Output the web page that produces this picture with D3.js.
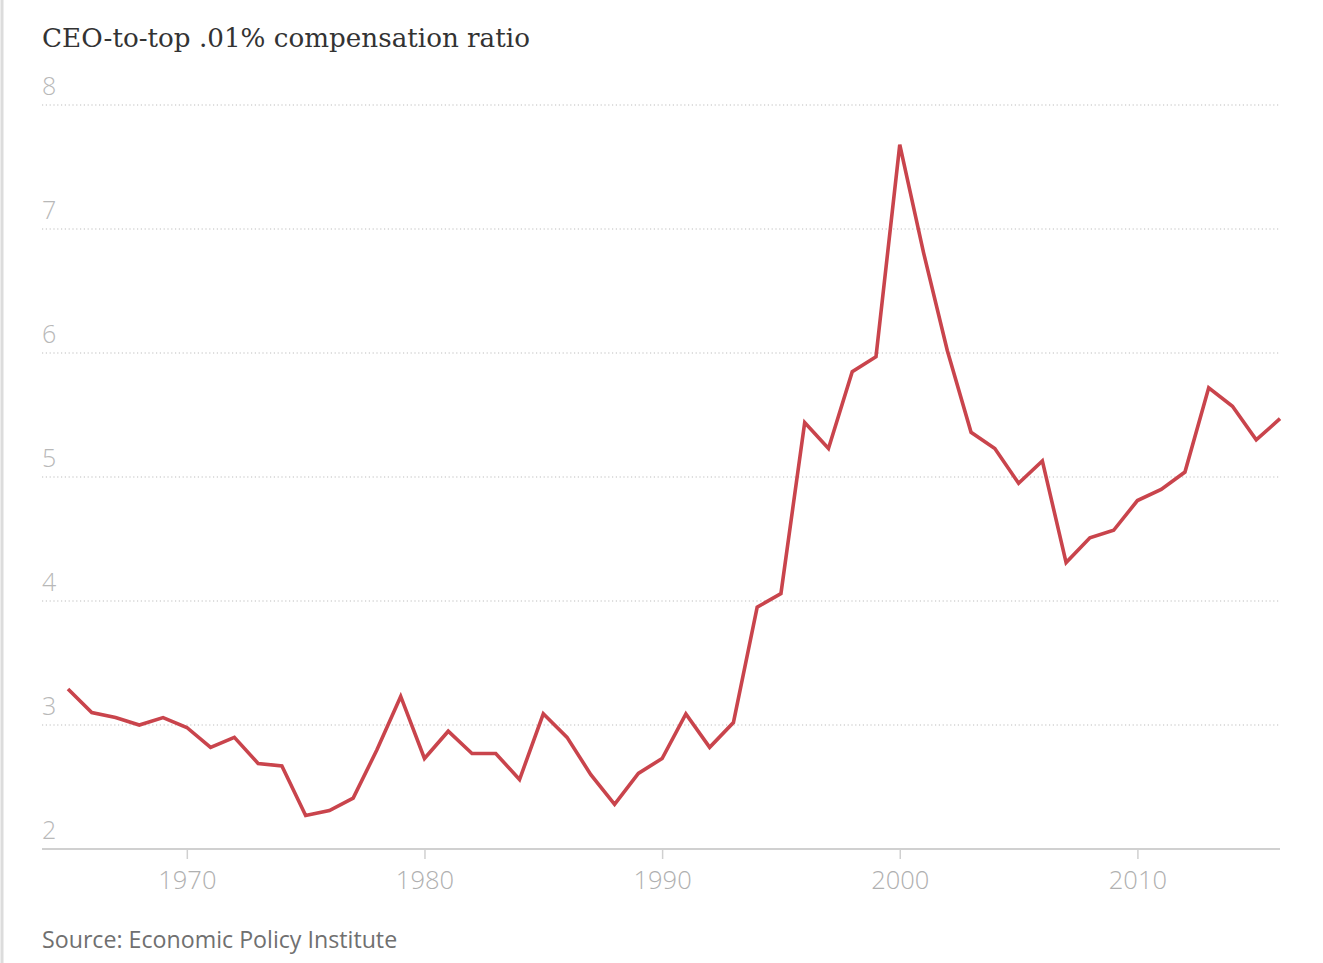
<!DOCTYPE html>
<html>
<head>
<meta charset="utf-8">
<script src="https://cdn.jsdelivr.net/npm/d3@7"></script>
<style>
  html, body { margin: 0; padding: 0; background: #fff; }
  svg { display: block; }
</style>
</head>
<body>
<svg id="chart" width="1323" height="963"></svg>
<script>
const years = [1965,1966,1967,1968,1969,1970,1971,1972,1973,1974,1975,1976,1977,1978,1979,
  1980,1981,1982,1983,1984,1985,1986,1987,1988,1989,1990,1991,1992,1993,1994,1995,1996,1997,
  1998,1999,2000,2001,2002,2003,2004,2005,2006,2007,2008,2009,2010,2011,2012,2013,2014,2015,2016];
const ratios = [3.29,3.10,3.06,3.00,3.06,2.98,2.82,2.90,2.69,2.67,2.27,2.31,2.41,2.80,3.23,
  2.73,2.95,2.77,2.77,2.56,3.09,2.90,2.60,2.36,2.61,2.73,3.09,2.82,3.02,3.95,4.06,5.44,5.23,
  5.85,5.97,7.68,6.81,6.02,5.36,5.23,4.95,5.13,4.31,4.51,4.57,4.81,4.90,5.04,5.72,5.57,5.30,5.47];
const yTicks = [2,3,4,5,6,7,8];
const xTicks = [1970,1980,1990,2000,2010];
const titleText = "CEO-to-top .01% compensation ratio";
const sourceText = "Source: Economic Policy Institute";

const svg = d3.select("#chart");
const left = 42, right = 1280;
const x = d3.scaleLinear().domain([1965, 2016]).range([68, 1280]);
const y = d3.scaleLinear().domain([2, 8]).range([849, 105]);

// left border
svg.append("line").attr("x1", 2).attr("x2", 2).attr("y1", 0).attr("y2", 963)
  .attr("stroke", "#dcdcdc").attr("stroke-width", 3);

// title
svg.append("text").attr("x", left).attr("y", 47)
  .attr("font-family", "'DejaVu Serif', serif").attr("font-size", 26.2)
  .attr("fill", "#333").text(titleText);

// gridlines (dotted)
svg.append("g").selectAll("line").data(yTicks.filter(d => d > 2)).join("line")
  .attr("x1", left).attr("x2", right)
  .attr("y1", d => y(d)).attr("y2", d => y(d))
  .attr("stroke", "#bdbdbd").attr("stroke-width", 1.2)
  .attr("stroke-dasharray", "1.2,2.6");

// y tick labels
svg.append("g").selectAll("text").data(yTicks).join("text")
  .attr("x", left).attr("y", d => y(d) - 10)
  .attr("font-family", "'Open Sans', sans-serif").attr("font-weight", 300)
  .attr("font-size", 25).attr("fill", "#b8b8b8").text(d => d);

// x axis baseline
svg.append("line").attr("x1", left).attr("x2", right)
  .attr("y1", y(2)).attr("y2", y(2))
  .attr("stroke", "#d0d0d0").attr("stroke-width", 2);

// x axis ticks + labels
const xAxis = d3.axisBottom(x).tickValues(xTicks).tickSize(10).tickPadding(12).tickFormat(d3.format("d"));
const gx = svg.append("g").attr("transform", `translate(0,${y(2)})`).call(xAxis);
gx.select(".domain").remove();
gx.selectAll(".tick line").attr("stroke", "#d0d0d0").attr("stroke-width", 1.5);
gx.selectAll(".tick text").attr("font-family", "'Open Sans', sans-serif")
  .attr("font-weight", 300).attr("font-size", 25.5).attr("fill", "#b0b0b0");

// line
const data = years.map((yr, i) => ({ yr, v: ratios[i] }));
svg.append("path").datum(data)
  .attr("fill", "none").attr("stroke", "#c9444c").attr("stroke-width", 3.6)
  .attr("stroke-linejoin", "miter").attr("stroke-linecap", "butt")
  .attr("d", d3.line().x(d => x(d.yr)).y(d => y(d.v)));

// source
svg.append("text").attr("x", left).attr("y", 948)
  .attr("font-family", "'Open Sans', sans-serif").attr("font-size", 23.2)
  .attr("fill", "#707070").text(sourceText);
</script>
</body>
</html>
